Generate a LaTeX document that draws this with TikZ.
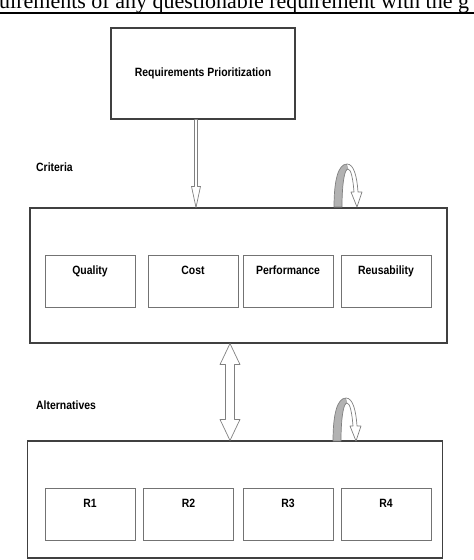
\documentclass[tikz,border=0pt]{standalone}
\usepackage{fontspec}
\setmainfont{Liberation Sans}
\newfontfamily\labelfont{Liberation Sans}[FakeStretch=0.87]
\newfontfamily\pagefont{Liberation Serif}
\usetikzlibrary{calc}
\begin{document}
\begin{tikzpicture}[x=1pt,y=-1pt,
  frame/.style={draw=black!75,line width=1.1pt},
  item/.style={draw=black!55,line width=0.8pt,minimum width=90pt,inner ysep=0pt,
    text height=19pt,text depth=33pt,font=\labelfont\fontsize{12}{14}\selectfont\bfseries},
  tag/.style={anchor=base west,inner sep=0pt,font=\labelfont\fontsize{12}{14}\selectfont\bfseries},
  hollow/.style={draw=black!50,line width=0.7pt,fill=white,line join=round},
  loopback/.pic={
    \draw[hollow,fill=black!30] (0,0) .. controls (0,-26) and (4,-43) .. (13,-43)
      -- (14,-38) .. controls (10,-38) and (8,-20) .. (8,0) -- cycle;
    \draw[hollow] (13,-43) .. controls (20,-43) and (23,-30) .. (24,-15)
      -- (28,-15) -- (23,0) -- (17,-15) -- (20,-15)
      .. controls (19,-28) and (17,-38) .. (14,-38);
  }]
  \useasboundingbox (0,0) rectangle (474,560);
  \clip (0,0) rectangle (474,560);
  % page text above the figure
  \node[anchor=base west,inner sep=0pt,font=\pagefont\fontsize{22}{24}\selectfont] (page) at (-1,8)
    {uirements of any questionable requirement with the g};
  \draw[line width=1.5pt] (0,13) -- (474,13);

  \node[frame,minimum width=184pt,minimum height=91pt,font=\labelfont\fontsize{12}{14}\selectfont\bfseries]
    (prio) at (203,73.5) {Requirements Prioritization};

  \node[tag] (crit) at (36,171.5) {Criteria};
  \node[frame,minimum width=417pt,minimum height=135pt] (critbox) at (238.5,275.5) {};
  \foreach \name/\txt/\x in {quality/Quality/90,cost/Cost/193,perf/Performance/288,reuse/Reusability/386}
    \node[item] (\name) at (\x,281) {\txt};

  \node[tag] (alt) at (36,409) {Alternatives};
  \node[frame,minimum width=415pt,minimum height=117pt] (altbox) at (235,499.5) {};
  \foreach \name/\txt/\x in {r1/R1/90,r2/R2/188.5,r3/R3/288,r4/R4/386}
    \node[item] (\name) at (\x,514) {\txt};

  % prioritization -> criteria
  \coordinate (drop) at (196,0);
  \path (prio.south -| drop) coordinate (c) (critbox.north -| drop) coordinate (d);
  \draw[hollow] ($(c)+(-1.5,0)$) -- ($(d)+(-1.5,-21)$) -- ($(d)+(-4.5,-21)$) -- (d)
    -- ($(d)+(4.5,-21)$) -- ($(d)+(1.5,-21)$) -- ($(c)+(1.5,0)$);

  % criteria <-> alternatives
  \coordinate (mid) at (230,0);
  \path (critbox.south -| mid) coordinate (a) (altbox.north -| mid) coordinate (b);
  \draw[hollow] (a) -- ($(a)+(10,21)$) -- ($(a)+(4.5,21)$) -- ($(b)+(4.5,-21)$)
    -- ($(b)+(10,-21)$) -- (b) -- ($(b)+(-10,-21)$) -- ($(b)+(-4.5,-21)$)
    -- ($(a)+(-4.5,21)$) -- ($(a)+(-10,21)$) -- cycle;

  \pic at (334,207) {loopback};
  \pic at (333,441) {loopback};
\end{tikzpicture}
\end{document}
